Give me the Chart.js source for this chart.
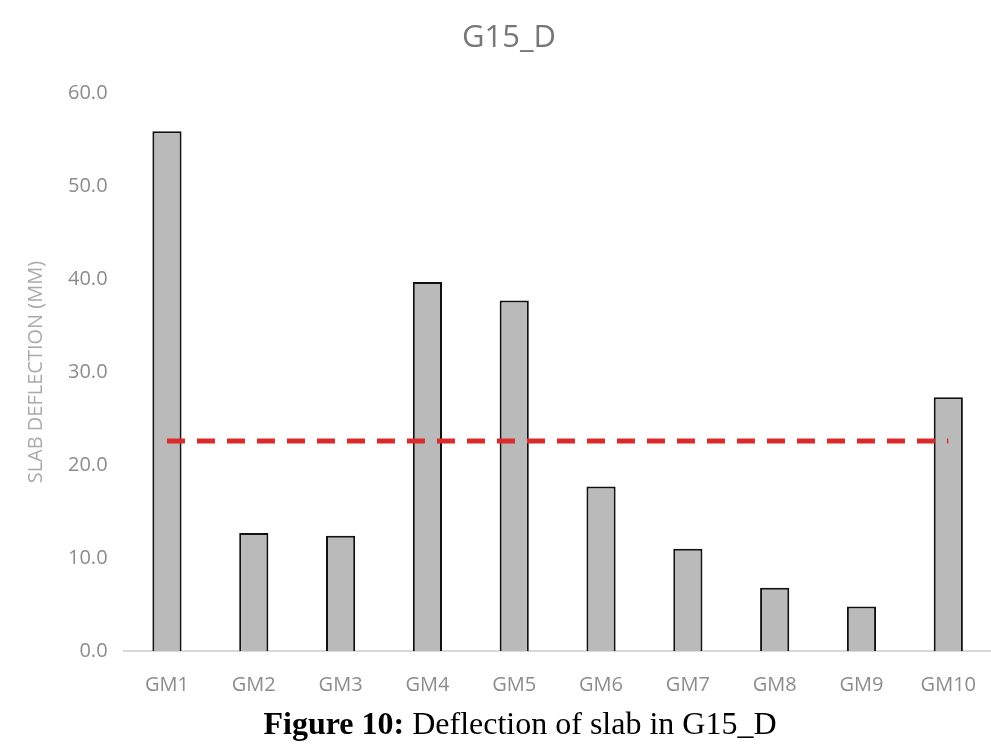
<!DOCTYPE html>
<html>
<head>
<meta charset="utf-8">
<script src="https://cdn.jsdelivr.net/npm/chart.js@4"></script>
<style>
  body { margin: 0; background: #fff; overflow: hidden; width: 991px; height: 748px; position: relative; }
  #wrap { position: absolute; left: 0; top: 0; width: 998px; height: 719px; }
  #legenda { position: absolute; left: 0; width: 1040px; top: 705px; text-align: center;
    font-family: "Liberation Serif", serif; font-size: 32px; color: #000; }
</style>
</head>
<body>
<div id="wrap"><canvas id="grafico"></canvas></div>
<div id="legenda"><b>Figure 10:</b> Deflection of slab in G15_D</div>
<script>
// dados
const categorias = ["GM1", "GM2", "GM3", "GM4", "GM5", "GM6", "GM7", "GM8", "GM9", "GM10"];
const deflexao = [55.9, 12.7, 12.4, 39.7, 37.7, 17.7, 11.0, 6.8, 4.8, 27.3];
const limite = [22.6, 22.6, 22.6, 22.6, 22.6, 22.6, 22.6, 22.6, 22.6, 22.6];

const cinza = '#8c8c8c';
const fonte = '"Open Sans", "DejaVu Sans", sans-serif';

const ctx = document.getElementById("grafico").getContext("2d");

new Chart(ctx, {
    type: 'bar',
    data: {
        labels: categorias,
        datasets: [{
            type: 'line',
            label: 'Limite',
            data: limite,
            borderColor: '#d92b2b',
            borderWidth: 5,
            borderDash: [18, 12],
            pointRadius: 0,
            fill: false,
            order: 0
        }, {
            label: 'Deflexão',
            data: deflexao,
            backgroundColor: '#bababa',
            borderColor: '#111',
            borderWidth: 2,
            categoryPercentage: 0.8,
            barPercentage: 0.42,
            order: 1
        }]
    },
    options: {
        responsive: true,
        maintainAspectRatio: false,
        animation: false,
        layout: { padding: { left: 20, right: 0, top: 10, bottom: 0 } },
        plugins: {
            legend: { display: false },
            tooltip: { enabled: false },
            title: {
                display: true,
                text: 'G15_D',
                color: '#777',
                font: { family: fonte, size: 31, weight: 'normal' },
                padding: { top: 10, bottom: 36 }
            }
        },
        scales: {
            x: {
                grid: { display: false, drawTicks: false },
                border: { display: true, color: '#d9d9d9', width: 2 },
                ticks: { color: cinza, font: { family: fonte, size: 20 }, padding: 22 }
            },
            y: {
                min: 0,
                max: 60,
                grid: { display: false, drawTicks: false },
                border: { display: false },
                ticks: {
                    stepSize: 10,
                    color: cinza,
                    font: { family: fonte, size: 20 },
                    padding: 16,
                    callback: function(v) { return v.toFixed(1); }
                },
                title: {
                    display: true,
                    text: 'SLAB DEFLECTION (MM)',
                    color: '#aaa',
                    font: { family: fonte, size: 20 },
                    padding: { bottom: 4 }
                }
            }
        }
    }
});
</script>
</body>
</html>
